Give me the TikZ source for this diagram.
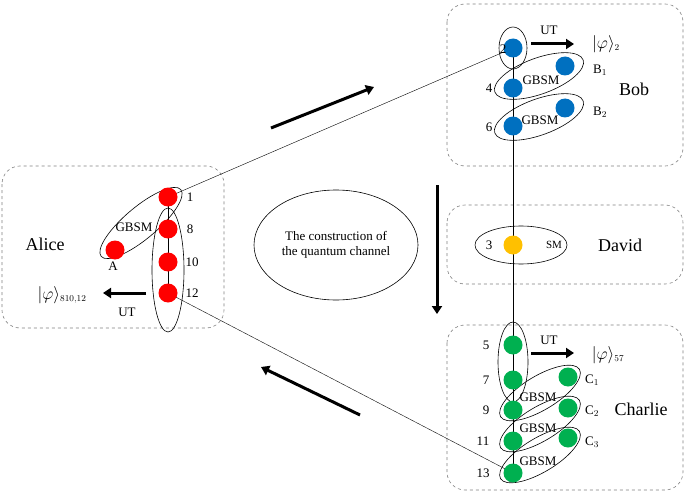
\documentclass[tikz,border=0pt]{standalone}
\usepackage{fontspec}
\setmainfont{Liberation Serif}
\usetikzlibrary{arrows.meta}
\begin{document}
\begin{tikzpicture}[x=1pt,y=-1pt,
  box/.style={draw=gray,dashed,rounded corners=18pt,line width=0.6pt},
  q/.style={circle,minimum size=19pt,inner sep=0pt},
  ell/.style={draw,line width=0.6pt},
  lbl/.style={font=\fontsize{13}{13}\selectfont,inner sep=0pt},
  big/.style={font=\fontsize{18}{18}\selectfont,inner sep=0pt},
  fat/.style={line width=3pt,-{Triangle[length=8pt,width=10pt]}}]
\useasboundingbox (0,0) rectangle (685,492);
% boxes
\draw[box] (447,4) rectangle (683,166);
\draw[box] (447,205) rectangle (683,284);
\draw[box] (447,325) rectangle (683,490);
\draw[box] (2,166) rectangle (224,328);
% links
\draw (513,48) -- (513,473);
\draw (168,197) -- (168,293);
\draw (168,197) -- (513,48);
\draw (168,293) -- (513,473);
% ellipses
\draw[ell] (513,48) ellipse (14pt and 21pt);
\draw[ell,rotate around={20:(539,76)}] (539,76) ellipse (47pt and 18pt);
\draw[ell,rotate around={20:(539,117)}] (539,117) ellipse (47pt and 18pt);
\draw[ell] (521,245) ellipse (46pt and 19pt);
\draw[ell] (513,362) ellipse (15pt and 40pt);
\draw[ell,rotate around={31:(540,393)}] (540,393) ellipse (46pt and 17pt);
\draw[ell,rotate around={31:(540,424)}] (540,424) ellipse (46pt and 17pt);
\draw[ell,rotate around={31:(540,455)}] (540,455) ellipse (46pt and 17pt);
\draw[ell,rotate around={40:(141,223)}] (141,223) ellipse (52pt and 16pt);
\draw[ell] (168,270) ellipse (16pt and 62pt);
\draw[ell] (336,245) ellipse (82pt and 55pt);
% qubits
\foreach \n/\y in {b2/48,b4/88,b6/126}
  \node[q,fill={rgb,255:red,0;green,112;blue,192}] (\n) at (513,\y) {};
\node[q,fill={rgb,255:red,0;green,112;blue,192}] (bB1) at (565,66) {};
\node[q,fill={rgb,255:red,0;green,112;blue,192}] (bB2) at (565,108) {};
\node[q,fill={rgb,255:red,255;green,192;blue,0}] (d3) at (513,245) {};
\foreach \n/\y in {c5/345,c7/380,c9/410,c11/441,c13/473}
  \node[q,fill={rgb,255:red,0;green,176;blue,80}] (\n) at (513,\y) {};
\foreach \n/\y in {cC1/377,cC2/408,cC3/438}
  \node[q,fill={rgb,255:red,0;green,176;blue,80}] (\n) at (568,\y) {};
\foreach \n/\y in {a1/197,a8/229,a10/262,a12/293}
  \node[q,fill=red] (\n) at (168,\y) {};
\node[q,fill=red] (aA) at (115,250) {};
% labels
\node[lbl] at (503,49) {2};
\node[lbl] at (489,88) {4};
\node[lbl] at (489,127) {6};
\node[lbl] at (600,70) {B$_1$};
\node[lbl] at (600,112) {B$_2$};
\node[lbl] at (541,80) {GBSM};
\node[lbl] at (540,120) {GBSM};
\node[big] at (634,89) {Bob};
\node[lbl] at (549,30) {UT};
\node[big] at (606,44) {$|\varphi\rangle_{\scriptscriptstyle 2}$};
\node[lbl] at (489,245) {3};
\node[lbl,font=\fontsize{11}{11}\selectfont] at (554,245) {SM};
\node[big] at (620,245) {David};
\node[lbl] at (486,345) {5};
\node[lbl] at (486,380) {7};
\node[lbl] at (486,410) {9};
\node[lbl] at (483,441) {11};
\node[lbl] at (483,473) {13};
\node[lbl] at (592,380) {C$_1$};
\node[lbl] at (592,411) {C$_2$};
\node[lbl] at (592,442) {C$_3$};
\node[lbl] at (538,397) {GBSM};
\node[lbl] at (538,428) {GBSM};
\node[lbl] at (538,461) {GBSM};
\node[big] at (641,409) {Charlie};
\node[lbl] at (549,340) {UT};
\node[big] at (608,355) {$|\varphi\rangle_{\scriptscriptstyle 57}$};
\node[lbl] at (190,197) {1};
\node[lbl] at (190,229) {8};
\node[lbl] at (192,262) {10};
\node[lbl] at (192,293) {12};
\node[lbl] at (113,266) {A};
\node[lbl] at (134,227) {GBSM};
\node[big] at (45,244) {Alice};
\node[lbl] at (127,312) {UT};
\node[big] at (62,295) {$|\varphi\rangle_{\scriptscriptstyle 810,12}$};
\node[align=center,font=\fontsize{13}{15}\selectfont] (ch) at (336,245) {The construction of\\the quantum channel};
% thick arrows
\coordinate (u1) at (531,44); \coordinate (u2) at (574,44);
\draw[fat] (u1) -- (u2);
\coordinate (u3) at (531,353); \coordinate (u4) at (574,353);
\draw[fat] (u3) -- (u4);
\coordinate (u5) at (146,293); \coordinate (u6) at (103,293);
\draw[fat] (u5) -- (u6);
\coordinate (k1) at (271,128); \coordinate (k2) at (374,87);
\draw[fat] (k1) -- (k2);
\coordinate (k3) at (437,185); \coordinate (k4) at (437,314);
\draw[fat] (k3) -- (k4);
\coordinate (k5) at (360,415); \coordinate (k6) at (261,367);
\draw[fat] (k5) -- (k6);
\end{tikzpicture}
\end{document}
